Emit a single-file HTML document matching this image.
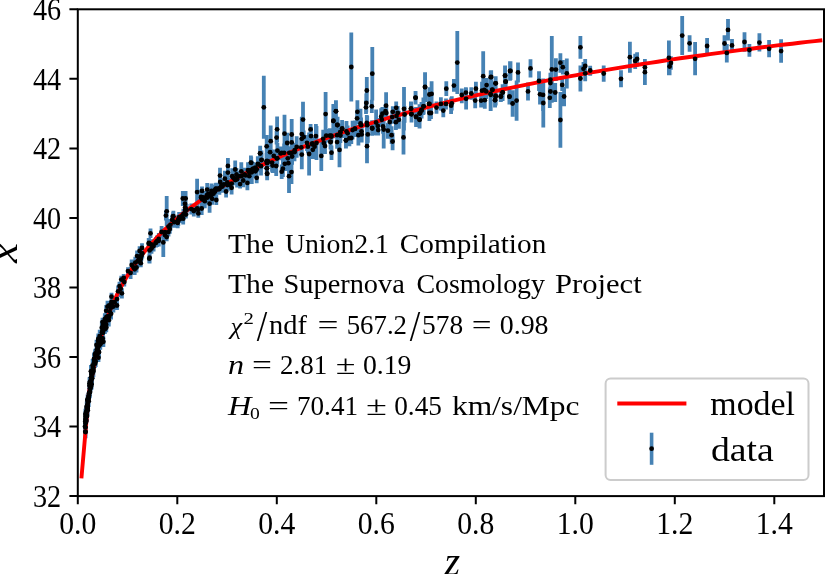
<!DOCTYPE html>
<html><head><meta charset="utf-8"><title>Union2.1 fit</title>
<style>
html,body{margin:0;padding:0;background:#fff;}
svg{display:block;}
text{font-family:"Liberation Serif","DejaVu Serif",serif;fill:#000;}
.tk{font-size:31.4px;}
.an{font-size:27.5px;}
.sm{font-size:17.5px;}
.sl{font-size:44.4px;}
.chi{font-size:23.5px;}
.lg{font-size:33px;}
.ax{font-size:40px;font-style:italic;}
.it{font-style:italic;}
</style></head><body>
<svg width="825" height="574" viewBox="0 0 825 574">
<rect width="825" height="574" fill="#fff"/>

<g stroke="#4682b4" stroke-width="3.8" fill="none">
<path d="M728.0 19.1V40.5M726.8 44.1V62.4M732.0 38.9V52.0M744.5 32.3V51.7M749.4 44.1V56.7M759.4 33.2V51.5M769.1 39.9V57.3M781.1 39.3V62.7M644.9 59.1V75.5M644.9 59.5V84.9M668.9 40.5V75.2M670.9 56.3V69.8M669.6 57.8V75.2M682.2 16.1V54.9M689.6 35.2V51.8M695.1 42.1V75.2M707.1 38.0V53.3M724.5 35.2V51.5M580.4 35.9V58.7M580.4 65.4V91.6M585.2 58.9V73.1M585.2 65.5V81.2M583.5 62.0V75.6M590.2 65.7V75.7M603.7 65.4V81.8M621.0 70.2V87.3M629.9 41.8V72.7M635.2 53.8V69.0M637.1 52.2V66.6M491.2 70.3V83.7M495.7 76.3V90.3M492.4 81.6V98.0M490.6 77.0V111.0M495.7 87.4V105.6M495.1 92.4V107.6M502.6 84.3V100.9M500.7 91.0V102.0M505.0 65.4V86.0M505.6 72.9V90.3M510.5 61.3V80.0M509.5 88.9V104.5M518.0 62.6V82.4M516.6 80.5V120.7M512.6 90.3V116.7M530.5 59.3V77.6M528.0 82.4V100.5M539.0 71.2V91.0M540.0 84.1V104.5M543.0 78.8V111.0M543.3 78.6V127.4M550.4 72.7V86.5M550.4 75.9V90.1M550.4 82.4V100.6M549.8 87.6V108.0M551.8 36.1V102.7M555.9 58.3V80.9M555.2 83.0V102.0M560.4 53.2V72.7M562.8 59.9V74.5M566.8 58.4V88.5M562.2 78.8V91.0M564.1 86.7V106.3M560.4 92.0V147.8M425.0 72.2V101.8M431.6 81.3V106.5M415.5 91.1V104.5M446.3 81.3V96.1M453.9 79.0V91.8M457.3 31.1V94.0M461.8 88.4V103.3M465.9 87.2V98.0M466.1 88.2V109.4M471.3 87.2V99.8M475.9 81.7V95.7M475.2 93.0V108.2M483.2 51.2V101.2M486.6 78.0V92.2M482.0 81.8V99.6M484.4 81.2V98.8M486.2 83.7V99.1M481.1 93.6V107.6M484.8 91.6V108.8M490.7 70.4V84.0M490.7 78.6V111.0M495.6 76.2V90.4M492.3 82.6V96.8M495.0 92.8V107.6M495.6 88.7V102.7M500.9 91.2V102.0M502.7 85.3V99.3M505.1 65.6V85.6M505.7 74.1V89.3M510.0 61.2V80.8M509.4 88.7V104.5M411.2 101.7V115.3M411.5 106.5V122.1M416.1 107.0V127.0M419.5 110.5V128.5M421.6 102.6V118.6M419.5 104.2V123.2M423.4 97.5V115.1M429.5 95.4V112.4M431.0 106.9V119.1M436.5 101.5V113.7M440.9 97.2V110.6M443.3 103.9V117.3M446.0 98.4V109.4M451.8 96.2V110.4M451.1 97.5V113.9M351.3 32.5V101.5M372.3 47.0V100.4M366.8 77.1V104.0M366.3 93.4V112.4M366.0 100.5V114.1M371.8 99.7V112.9M335.9 100.2V122.2M333.4 103.9V137.5M337.6 116.8V133.2M342.2 122.3V134.7M357.4 100.2V123.4M357.1 112.1V124.5M360.5 108.8V138.0M361.1 117.4V133.0M366.8 115.1V130.5M367.2 116.0V134.4M354.8 120.5V136.9M372.1 120.2V135.8M376.1 109.4V135.6M377.8 118.1V133.7M378.2 124.6V135.6M386.1 92.3V119.1M385.5 104.3V118.1M386.3 106.9V119.1M382.4 107.0V120.4M381.2 108.3V125.1M381.8 113.0V126.6M383.0 119.2V133.8M383.7 110.6V148.4M387.9 122.7V138.7M389.8 115.9V128.1M391.6 126.3V144.1M392.6 132.8V150.2M392.8 106.3V117.3M392.2 110.5V123.7M396.2 101.5V114.1M397.7 106.0V120.0M396.5 107.0V125.2M395.9 114.4V130.0M398.9 110.8V128.8M404.0 87.1V130.5M404.6 106.2V122.8M403.5 120.4V154.5M410.9 101.5V116.1M411.5 105.4V122.6M415.6 91.3V104.5M416.0 106.9V126.5M419.6 111.3V128.3M420.2 106.6V119.4M421.5 102.1V117.9M423.7 98.5V114.1M425.1 72.2V102.0M429.0 94.8V113.0M429.4 87.2V101.8M429.4 104.9V121.1M331.2 129.3V141.9M330.6 134.6V149.4M331.5 145.4V160.0M337.1 128.0V142.4M337.1 135.5V148.7M339.5 132.5V167.3M340.4 123.7V141.5M340.4 128.2V143.0M346.5 121.0V141.6M345.9 132.6V148.4M351.3 131.9V144.1M352.6 120.7V139.5M355.0 120.8V137.0M358.4 125.0V145.4M361.7 126.3V142.5M361.5 123.0V139.6M367.8 126.0V142.8M367.0 129.0V163.3M372.3 121.9V135.1M263.8 75.8V138.8M260.1 146.7V160.1M266.7 135.1V157.5M270.7 125.4V157.0M270.1 144.6V159.8M277.1 116.5V142.1M276.6 130.7V144.5M277.4 143.1V158.1M273.8 149.5V162.3M284.5 114.8V152.6M287.2 132.7V153.3M284.1 143.4V162.2M280.5 146.6V160.2M291.7 119.0V150.0M291.7 134.0V150.8M291.5 145.7V159.9M294.5 143.1V161.3M292.1 148.2V164.8M296.7 136.3V157.7M303.0 101.8V137.4M301.8 116.8V151.4M303.7 130.5V143.5M301.8 129.8V147.8M301.2 138.0V156.6M301.8 139.9V169.3M310.6 124.1V134.7M311.0 126.9V145.3M307.0 135.0V151.0M307.9 140.1V153.3M309.1 132.6V175.4M312.2 137.6V151.0M312.8 140.5V159.1M315.9 124.1V148.1M316.5 125.9V160.1M314.6 138.7V154.7M321.3 140.7V171.1M325.6 92.1V136.2M326.2 129.0V142.4M323.2 129.7V147.9M323.8 134.7V151.3M325.0 138.1V154.1M330.5 134.4V149.2M329.9 128.2V143.2M333.3 104.0V138.2M336.0 100.4V122.2M337.2 118.1V131.9M340.2 125.9V138.3M342.1 119.9V138.1M346.0 131.9V148.5M347.6 125.6V141.0M349.4 130.2V146.2M251.2 156.7V168.9M252.4 161.9V176.7M254.9 163.4V174.0M256.7 163.0V175.6M251.8 160.7V183.9M256.7 172.3V183.3M258.5 159.1V169.7M261.6 153.6V166.6M261.0 156.8V175.6M266.5 153.0V169.6M267.1 155.7V170.7M266.8 160.4V176.2M267.1 166.8V180.2M272.0 153.5V171.7M272.6 158.3V172.9M276.2 156.0V176.0M276.8 150.2V166.4M282.9 160.3V177.1M281.7 164.4V179.0M284.8 156.5V171.1M288.4 155.3V171.1M287.8 149.6V167.0M291.5 160.3V183.9M289.0 159.4V193.0M182.8 190.9V206.1M185.6 190.9V206.1M185.0 197.9V209.5M185.2 203.1V211.5M185.2 205.1V216.9M185.9 210.7V218.5M191.3 203.6V214.6M193.8 205.4V216.6M198.0 205.7V213.9M201.7 202.1V214.9M198.3 209.1V217.7M197.1 178.7V205.5M202.0 186.6V195.2M201.1 189.4V204.6M203.5 192.4V202.8M204.8 194.2V208.2M207.2 183.0V196.2M207.2 189.5V204.5M210.2 187.2V200.6M211.5 183.6V198.2M209.6 194.6V212.8M212.1 192.9V204.7M216.3 195.1V204.9M215.7 183.2V194.8M220.0 167.7V183.5M220.2 175.7V188.3M219.4 183.3V194.7M222.4 180.4V192.8M224.9 170.7V186.7M226.1 185.4V197.6M227.9 157.9V173.9M227.9 165.7V179.5M227.3 176.1V188.5M229.8 178.8V190.8M231.6 181.1V194.5M232.2 168.2V184.2M235.2 160.4V178.6M236.5 167.9V180.9M237.1 171.2V187.4M240.1 179.8V188.4M241.3 162.2V180.4M243.2 173.8V187.2M244.4 167.7V181.1M247.4 175.6V190.2M248.0 162.3V177.9M249.3 168.8V183.6M250.9 155.5V169.7M252.9 162.0V175.8M255.4 164.9V177.7M257.8 156.2V171.8M260.2 145.8V160.8M261.5 150.6V169.0M267.0 154.7V167.3M267.0 160.7V175.9M267.2 167.7V179.9M166.7 196.1V226.5M165.9 210.6V220.6M163.3 227.7V257.1M150.5 228.5V238.1M149.3 254.2V263.2M183.2 212.8V224.6M180.1 213.0V221.8M178.3 214.9V226.1M177.7 217.6V228.2M173.4 210.8V221.6M172.2 214.7V225.1M170.4 218.9V230.7M168.5 222.0V231.2M169.8 224.3V233.7M168.5 227.8V236.4M164.9 231.2V239.0M166.7 232.7V241.3M158.8 233.0V244.6M157.0 235.5V246.9M155.7 238.9V247.1M149.0 237.9V248.1M150.9 239.4V249.2M152.7 241.0V251.2M151.5 243.2V253.8M149.6 245.9V254.9M149.6 251.8V263.6M139.6 246.2V255.8M142.3 248.2V258.6M141.1 251.3V261.7M139.3 254.1V262.5M194.1 206.1V214.1M197.2 203.6V213.0M141.4 249.7V260.7M140.8 253.3V264.5M139.0 255.9V266.7M140.8 259.1V267.3M135.3 256.8V268.4M131.7 259.4V270.6M133.5 261.7V273.1M136.5 262.4V272.4M134.7 263.5V275.1M128.0 267.2V275.0M123.7 273.9V281.7M121.3 275.7V283.5M124.3 277.7V286.5M119.5 281.7V290.5M120.7 284.6V293.0M121.9 288.2V298.4M111.5 292.8V300.6M117.0 294.0V304.2M114.6 298.0V306.4M111.5 298.1V308.7M109.1 301.6V309.4M117.0 301.0V310.0M113.4 300.6V312.4M110.9 302.7V312.7M148.7 238.1V249.3M153.6 240.8V251.4M156.0 237.2V247.6M173.0 212.2V220.8M179.1 212.0V222.2M182.2 212.0V219.8M85.3 426.2V437.4M85.0 420.6V432.4M104.9 324.4V334.1M89.9 386.0V397.1M102.7 332.3V344.6M102.7 324.3V336.2M106.1 319.1V329.9M97.4 349.6V358.1M98.1 340.7V352.9M102.9 327.1V338.7M105.5 316.8V325.6M85.6 414.2V423.3M95.3 348.7V358.6M88.7 395.6V406.9M86.5 407.8V416.5M98.1 335.8V345.7M90.9 379.2V388.3M88.6 393.0V403.3M86.2 408.4V419.3M89.5 377.3V389.2M86.9 404.2V412.9M86.2 406.7V416.1M89.7 379.9V391.0M87.7 401.8V414.2M91.0 382.2V390.6M100.2 334.9V347.0M98.5 353.5V361.9M94.1 358.3V367.3M89.0 387.6V399.4M106.7 314.2V323.1M102.8 326.3V337.9M111.5 295.9V308.1M102.0 326.7V337.9M87.7 397.2V409.0M100.0 331.8V341.7M91.9 371.8V384.0M94.7 354.8V365.5M100.0 333.6V345.8M107.8 312.7V321.4M101.3 338.2V346.9M99.7 329.8V342.4M86.8 409.4V422.4M86.7 401.6V412.5M92.4 367.2V376.2M107.5 300.8V312.6M86.1 416.7V424.8M89.8 386.7V398.3M92.6 358.9V371.9M106.4 312.3V321.5M91.3 376.3V385.0M85.6 415.1V423.8M87.5 402.4V412.9M87.7 396.1V405.5M94.3 355.5V366.1M97.1 344.3V354.3M102.5 317.7V326.6M87.0 409.5V422.4M108.8 313.7V326.6M88.0 394.9V405.4M107.5 315.0V324.6M96.3 348.0V357.2M92.9 363.9V375.7M103.9 320.4V331.9M104.8 313.2V324.9M89.6 380.1V391.9M87.4 400.4V411.4M90.1 377.0V385.8M94.0 352.4V365.3M95.6 351.0V360.4M102.9 319.3V330.5M109.2 311.7V321.8M99.0 347.3V356.9M98.3 333.6V344.3M101.7 333.4V345.1M85.4 408.8V419.1M91.6 378.8V389.5M100.3 339.0V349.8M95.1 359.6V367.8M92.6 365.8V376.5M86.1 411.8V420.9M87.8 396.6V405.6M92.6 365.0V376.5M95.0 349.8V360.2M96.9 349.4V360.8M97.5 347.1V357.8M91.4 369.6V379.5M92.9 364.5V375.1M90.2 383.8V393.7M104.6 316.5V326.8M99.7 334.6V346.9M95.7 355.7V367.1M98.6 337.7V347.8M87.6 394.7V404.1M92.1 373.1V383.3M90.9 365.0V377.7M106.4 315.0V324.4M106.2 305.1V316.5M86.1 415.4V424.4M91.9 364.7V376.8M93.1 365.1V375.4M90.9 373.1V382.1M89.8 386.1V398.0M85.9 415.6V427.7M92.4 368.1V379.5M88.6 391.9V401.8M97.3 344.6V355.0M94.3 358.2V367.2M109.7 306.8V316.3M88.8 391.7V401.8M101.8 334.0V343.0M87.0 400.5V412.3M93.4 365.8V377.1M96.9 344.2V356.0M90.3 378.2V388.4M93.4 363.0V373.2M97.4 343.9V352.6M87.5 398.8V411.6M85.6 418.8V427.6M93.1 362.1V372.4M87.3 399.3V411.3M87.7 405.3V415.3M91.8 369.2V378.1M107.9 311.0V322.4M85.8 411.2V422.2M101.8 321.3V334.1M106.3 322.7V332.3M85.6 425.8V438.3M111.1 308.2V319.5M98.6 339.9V352.7M96.5 339.7V350.3M85.5 421.7V433.2M91.9 366.8V378.6M90.2 383.9V392.5M87.7 394.2V404.4M108.1 310.2V322.7M98.7 347.2V357.2M85.3 417.0V426.2M87.1 404.2V415.6M88.1 394.2V406.9M89.0 391.0V399.6M103.4 336.5V347.1M85.7 410.0V422.2M118.1 285.4V297.3M151.9 239.2V250.3M142.0 243.2V252.6M161.6 226.1V237.8M137.1 250.4V261.9M137.7 254.7V267.5M158.8 235.0V246.6M130.6 266.7V279.0M223.9 178.6V190.0M201.8 191.8V203.0M207.5 191.3V203.7M210.0 187.9V203.0M213.5 187.4V200.0M201.7 190.5V204.9M201.2 190.0V204.8M249.0 165.0V177.7M219.2 183.4V193.4M213.0 184.9V197.3M227.4 179.7V190.3M202.2 194.6V204.2M204.7 190.9V205.0M235.1 174.0V184.6M234.6 173.2V185.2M248.8 166.9V176.8M235.3 175.2V184.9M237.6 171.6V181.1M233.0 172.0V183.1M216.2 182.7V194.5M241.7 171.2V180.6M249.7 165.7V175.1M214.9 185.0V198.4M255.4 162.4V173.0M211.5 188.2V202.0M204.0 192.7V204.2M231.7 178.0V189.2M208.3 186.7V200.9M245.6 168.8V182.0M218.7 184.7V193.5M253.0 163.3V174.6M240.2 171.4V181.1M208.2 191.3V200.4M212.9 186.5V197.8M221.5 180.0V190.3M201.8 191.3V204.3M277.3 152.4V164.2M289.3 146.5V159.1M281.6 148.2V157.4M268.0 155.9V166.9M331.4 130.9V142.5M294.7 143.8V156.7M312.3 137.1V149.6M165.0 227.7V236.4M186.6 204.1V215.4M178.2 214.8V224.6M174.2 216.6V227.1M179.9 215.0V222.9M183.4 208.8V219.5M185.4 205.2V213.6M174.1 216.4V227.8M215.2 185.1V195.1M215.2 185.5V195.9M217.8 184.1V194.3M207.0 189.2V201.0M221.8 180.0V192.0M210.2 191.2V200.6M212.8 187.0V196.9M213.4 187.2V196.1"/>
</g>
<path d="M81.4 478.3 L88.9 392.9 L96.4 353.2 L103.9 326.8 L111.4 306.9 L118.8 290.9 L126.3 277.5 L133.8 265.9 L141.3 255.6 L148.8 246.5 L156.3 238.2 L163.7 230.6 L171.2 223.6 L178.7 217.1 L186.2 211.0 L193.7 205.3 L201.2 200.0 L208.6 194.9 L216.1 190.1 L223.6 185.5 L231.1 181.1 L238.6 177.0 L246.1 173.0 L253.5 169.1 L261.0 165.4 L268.5 161.9 L276.0 158.5 L283.5 155.2 L291.0 152.0 L298.4 148.9 L305.9 145.9 L313.4 143.0 L320.9 140.2 L328.4 137.4 L335.9 134.8 L343.3 132.2 L350.8 129.7 L358.3 127.2 L365.8 124.9 L373.3 122.5 L380.8 120.3 L388.2 118.0 L395.7 115.9 L403.2 113.8 L410.7 111.7 L418.2 109.7 L425.7 107.7 L433.1 105.7 L440.6 103.9 L448.1 102.0 L455.6 100.2 L463.1 98.4 L470.6 96.6 L478.0 94.9 L485.5 93.2 L493.0 91.6 L500.5 90.0 L508.0 88.4 L515.5 86.8 L522.9 85.3 L530.4 83.8 L537.9 82.3 L545.4 80.9 L552.9 79.4 L560.4 78.0 L567.8 76.6 L575.3 75.3 L582.8 73.9 L590.3 72.6 L597.8 71.3 L605.2 70.1 L612.7 68.8 L620.2 67.6 L627.7 66.4 L635.2 65.2 L642.7 64.0 L650.1 62.8 L657.6 61.7 L665.1 60.5 L672.6 59.4 L680.1 58.3 L687.6 57.3 L695.0 56.2 L702.5 55.2 L710.0 54.1 L717.5 53.1 L725.0 52.1 L732.5 51.1 L739.9 50.1 L747.4 49.2 L754.9 48.2 L762.4 47.3 L769.9 46.4 L777.4 45.4 L784.8 44.5 L792.3 43.7 L799.8 42.8 L807.3 41.9 L814.8 41.1 L822.3 40.2" stroke="#ff0000" stroke-width="3.9" fill="none" stroke-linejoin="round"/>
<g fill="#000">
<circle cx="728.0" cy="29.9" r="2.4"/>
<circle cx="726.8" cy="52.9" r="2.4"/>
<circle cx="732.0" cy="45.4" r="2.4"/>
<circle cx="744.5" cy="42.0" r="2.4"/>
<circle cx="749.4" cy="50.0" r="2.4"/>
<circle cx="759.4" cy="42.6" r="2.4"/>
<circle cx="769.1" cy="48.8" r="2.4"/>
<circle cx="781.1" cy="51.1" r="2.4"/>
<circle cx="644.9" cy="67.3" r="2.4"/>
<circle cx="644.9" cy="72.2" r="2.4"/>
<circle cx="668.9" cy="57.8" r="2.4"/>
<circle cx="670.9" cy="63.0" r="2.4"/>
<circle cx="669.6" cy="66.5" r="2.4"/>
<circle cx="682.2" cy="35.6" r="2.4"/>
<circle cx="689.6" cy="43.3" r="2.4"/>
<circle cx="695.1" cy="58.8" r="2.4"/>
<circle cx="707.1" cy="46.0" r="2.4"/>
<circle cx="724.5" cy="43.5" r="2.4"/>
<circle cx="580.4" cy="47.3" r="2.4"/>
<circle cx="580.4" cy="78.5" r="2.4"/>
<circle cx="585.2" cy="66.0" r="2.4"/>
<circle cx="585.2" cy="73.3" r="2.4"/>
<circle cx="583.5" cy="68.8" r="2.4"/>
<circle cx="590.2" cy="70.5" r="2.4"/>
<circle cx="603.7" cy="73.5" r="2.4"/>
<circle cx="621.0" cy="78.8" r="2.4"/>
<circle cx="629.9" cy="57.2" r="2.4"/>
<circle cx="635.2" cy="60.9" r="2.4"/>
<circle cx="637.1" cy="59.0" r="2.4"/>
<circle cx="491.2" cy="77.0" r="2.4"/>
<circle cx="495.7" cy="83.3" r="2.4"/>
<circle cx="492.4" cy="89.8" r="2.4"/>
<circle cx="490.6" cy="94.0" r="2.4"/>
<circle cx="495.7" cy="96.5" r="2.4"/>
<circle cx="495.1" cy="100.0" r="2.4"/>
<circle cx="502.6" cy="92.6" r="2.4"/>
<circle cx="500.7" cy="96.5" r="2.4"/>
<circle cx="505.0" cy="75.7" r="2.4"/>
<circle cx="505.6" cy="81.6" r="2.4"/>
<circle cx="510.5" cy="70.9" r="2.4"/>
<circle cx="509.5" cy="96.7" r="2.4"/>
<circle cx="518.0" cy="72.4" r="2.4"/>
<circle cx="516.6" cy="100.6" r="2.4"/>
<circle cx="512.6" cy="103.5" r="2.4"/>
<circle cx="530.5" cy="68.4" r="2.4"/>
<circle cx="528.0" cy="91.4" r="2.4"/>
<circle cx="539.0" cy="81.0" r="2.4"/>
<circle cx="540.0" cy="94.3" r="2.4"/>
<circle cx="543.0" cy="94.9" r="2.4"/>
<circle cx="543.3" cy="103.0" r="2.4"/>
<circle cx="550.4" cy="79.6" r="2.4"/>
<circle cx="550.4" cy="83.0" r="2.4"/>
<circle cx="550.4" cy="91.5" r="2.4"/>
<circle cx="549.8" cy="97.8" r="2.4"/>
<circle cx="551.8" cy="69.4" r="2.4"/>
<circle cx="555.9" cy="69.6" r="2.4"/>
<circle cx="555.2" cy="92.5" r="2.4"/>
<circle cx="560.4" cy="62.7" r="2.4"/>
<circle cx="562.8" cy="67.2" r="2.4"/>
<circle cx="566.8" cy="73.3" r="2.4"/>
<circle cx="562.2" cy="84.9" r="2.4"/>
<circle cx="564.1" cy="96.5" r="2.4"/>
<circle cx="560.4" cy="120.0" r="2.4"/>
<circle cx="425.0" cy="87.0" r="2.4"/>
<circle cx="431.6" cy="93.9" r="2.4"/>
<circle cx="415.5" cy="97.6" r="2.4"/>
<circle cx="446.3" cy="88.7" r="2.4"/>
<circle cx="453.9" cy="85.6" r="2.4"/>
<circle cx="457.3" cy="62.6" r="2.4"/>
<circle cx="461.8" cy="95.0" r="2.4"/>
<circle cx="465.9" cy="92.6" r="2.4"/>
<circle cx="466.1" cy="98.8" r="2.4"/>
<circle cx="471.3" cy="93.5" r="2.4"/>
<circle cx="475.9" cy="88.7" r="2.4"/>
<circle cx="475.2" cy="100.6" r="2.4"/>
<circle cx="483.2" cy="76.2" r="2.4"/>
<circle cx="486.6" cy="85.1" r="2.4"/>
<circle cx="482.0" cy="90.7" r="2.4"/>
<circle cx="484.4" cy="90.0" r="2.4"/>
<circle cx="486.2" cy="91.4" r="2.4"/>
<circle cx="481.1" cy="100.6" r="2.4"/>
<circle cx="484.8" cy="100.2" r="2.4"/>
<circle cx="490.7" cy="77.2" r="2.4"/>
<circle cx="490.7" cy="94.8" r="2.4"/>
<circle cx="495.6" cy="83.3" r="2.4"/>
<circle cx="492.3" cy="89.7" r="2.4"/>
<circle cx="495.0" cy="100.2" r="2.4"/>
<circle cx="495.6" cy="95.7" r="2.4"/>
<circle cx="500.9" cy="96.6" r="2.4"/>
<circle cx="502.7" cy="92.3" r="2.4"/>
<circle cx="505.1" cy="75.6" r="2.4"/>
<circle cx="505.7" cy="81.7" r="2.4"/>
<circle cx="510.0" cy="71.0" r="2.4"/>
<circle cx="509.4" cy="96.6" r="2.4"/>
<circle cx="411.2" cy="108.5" r="2.4"/>
<circle cx="411.5" cy="114.3" r="2.4"/>
<circle cx="416.1" cy="117.0" r="2.4"/>
<circle cx="419.5" cy="119.5" r="2.4"/>
<circle cx="421.6" cy="110.6" r="2.4"/>
<circle cx="419.5" cy="113.7" r="2.4"/>
<circle cx="423.4" cy="106.3" r="2.4"/>
<circle cx="429.5" cy="103.9" r="2.4"/>
<circle cx="431.0" cy="113.0" r="2.4"/>
<circle cx="436.5" cy="107.6" r="2.4"/>
<circle cx="440.9" cy="103.9" r="2.4"/>
<circle cx="443.3" cy="110.6" r="2.4"/>
<circle cx="446.0" cy="103.9" r="2.4"/>
<circle cx="451.8" cy="103.3" r="2.4"/>
<circle cx="451.1" cy="105.7" r="2.4"/>
<circle cx="351.3" cy="67.0" r="2.4"/>
<circle cx="372.3" cy="73.7" r="2.4"/>
<circle cx="366.8" cy="90.5" r="2.4"/>
<circle cx="366.3" cy="102.9" r="2.4"/>
<circle cx="366.0" cy="107.3" r="2.4"/>
<circle cx="371.8" cy="106.3" r="2.4"/>
<circle cx="335.9" cy="111.2" r="2.4"/>
<circle cx="333.4" cy="120.7" r="2.4"/>
<circle cx="337.6" cy="125.0" r="2.4"/>
<circle cx="342.2" cy="128.5" r="2.4"/>
<circle cx="357.4" cy="111.8" r="2.4"/>
<circle cx="357.1" cy="118.3" r="2.4"/>
<circle cx="360.5" cy="123.4" r="2.4"/>
<circle cx="361.1" cy="125.2" r="2.4"/>
<circle cx="366.8" cy="122.8" r="2.4"/>
<circle cx="367.2" cy="125.2" r="2.4"/>
<circle cx="354.8" cy="128.7" r="2.4"/>
<circle cx="372.1" cy="128.0" r="2.4"/>
<circle cx="376.1" cy="122.5" r="2.4"/>
<circle cx="377.8" cy="125.9" r="2.4"/>
<circle cx="378.2" cy="130.1" r="2.4"/>
<circle cx="386.1" cy="105.7" r="2.4"/>
<circle cx="385.5" cy="111.2" r="2.4"/>
<circle cx="386.3" cy="113.0" r="2.4"/>
<circle cx="382.4" cy="113.7" r="2.4"/>
<circle cx="381.2" cy="116.7" r="2.4"/>
<circle cx="381.8" cy="119.8" r="2.4"/>
<circle cx="383.0" cy="126.5" r="2.4"/>
<circle cx="383.7" cy="129.5" r="2.4"/>
<circle cx="387.9" cy="130.7" r="2.4"/>
<circle cx="389.8" cy="122.0" r="2.4"/>
<circle cx="391.6" cy="135.2" r="2.4"/>
<circle cx="392.6" cy="141.5" r="2.4"/>
<circle cx="392.8" cy="111.8" r="2.4"/>
<circle cx="392.2" cy="117.1" r="2.4"/>
<circle cx="396.2" cy="107.8" r="2.4"/>
<circle cx="397.7" cy="113.0" r="2.4"/>
<circle cx="396.5" cy="116.1" r="2.4"/>
<circle cx="395.9" cy="122.2" r="2.4"/>
<circle cx="398.9" cy="119.8" r="2.4"/>
<circle cx="404.0" cy="108.8" r="2.4"/>
<circle cx="404.6" cy="114.5" r="2.4"/>
<circle cx="403.5" cy="137.4" r="2.4"/>
<circle cx="410.9" cy="108.8" r="2.4"/>
<circle cx="411.5" cy="114.0" r="2.4"/>
<circle cx="415.6" cy="97.8" r="2.4"/>
<circle cx="416.0" cy="116.7" r="2.4"/>
<circle cx="419.6" cy="119.8" r="2.4"/>
<circle cx="420.2" cy="113.0" r="2.4"/>
<circle cx="421.5" cy="110.0" r="2.4"/>
<circle cx="423.7" cy="106.3" r="2.4"/>
<circle cx="425.1" cy="87.1" r="2.4"/>
<circle cx="429.0" cy="103.9" r="2.4"/>
<circle cx="429.4" cy="94.5" r="2.4"/>
<circle cx="429.4" cy="113.0" r="2.4"/>
<circle cx="331.2" cy="135.6" r="2.4"/>
<circle cx="330.6" cy="142.0" r="2.4"/>
<circle cx="331.5" cy="152.7" r="2.4"/>
<circle cx="337.1" cy="135.2" r="2.4"/>
<circle cx="337.1" cy="142.1" r="2.4"/>
<circle cx="339.5" cy="149.9" r="2.4"/>
<circle cx="340.4" cy="132.6" r="2.4"/>
<circle cx="340.4" cy="135.6" r="2.4"/>
<circle cx="346.5" cy="131.3" r="2.4"/>
<circle cx="345.9" cy="140.5" r="2.4"/>
<circle cx="351.3" cy="138.0" r="2.4"/>
<circle cx="352.6" cy="130.1" r="2.4"/>
<circle cx="355.0" cy="128.9" r="2.4"/>
<circle cx="358.4" cy="135.2" r="2.4"/>
<circle cx="361.7" cy="134.4" r="2.4"/>
<circle cx="361.5" cy="131.3" r="2.4"/>
<circle cx="367.8" cy="134.4" r="2.4"/>
<circle cx="367.0" cy="146.2" r="2.4"/>
<circle cx="372.3" cy="128.5" r="2.4"/>
<circle cx="263.8" cy="107.3" r="2.4"/>
<circle cx="260.1" cy="153.4" r="2.4"/>
<circle cx="266.7" cy="146.3" r="2.4"/>
<circle cx="270.7" cy="141.2" r="2.4"/>
<circle cx="270.1" cy="152.2" r="2.4"/>
<circle cx="277.1" cy="129.3" r="2.4"/>
<circle cx="276.6" cy="137.6" r="2.4"/>
<circle cx="277.4" cy="150.6" r="2.4"/>
<circle cx="273.8" cy="155.9" r="2.4"/>
<circle cx="284.5" cy="133.7" r="2.4"/>
<circle cx="287.2" cy="143.0" r="2.4"/>
<circle cx="284.1" cy="152.8" r="2.4"/>
<circle cx="280.5" cy="153.4" r="2.4"/>
<circle cx="291.7" cy="134.5" r="2.4"/>
<circle cx="291.7" cy="142.4" r="2.4"/>
<circle cx="291.5" cy="152.8" r="2.4"/>
<circle cx="294.5" cy="152.2" r="2.4"/>
<circle cx="292.1" cy="156.5" r="2.4"/>
<circle cx="296.7" cy="147.0" r="2.4"/>
<circle cx="303.0" cy="119.6" r="2.4"/>
<circle cx="301.8" cy="134.1" r="2.4"/>
<circle cx="303.7" cy="137.0" r="2.4"/>
<circle cx="301.8" cy="138.8" r="2.4"/>
<circle cx="301.2" cy="147.3" r="2.4"/>
<circle cx="301.8" cy="154.6" r="2.4"/>
<circle cx="310.6" cy="129.4" r="2.4"/>
<circle cx="311.0" cy="136.1" r="2.4"/>
<circle cx="307.0" cy="143.0" r="2.4"/>
<circle cx="307.9" cy="146.7" r="2.4"/>
<circle cx="309.1" cy="154.0" r="2.4"/>
<circle cx="312.2" cy="144.3" r="2.4"/>
<circle cx="312.8" cy="149.8" r="2.4"/>
<circle cx="315.9" cy="136.1" r="2.4"/>
<circle cx="316.5" cy="143.0" r="2.4"/>
<circle cx="314.6" cy="146.7" r="2.4"/>
<circle cx="321.3" cy="155.9" r="2.4"/>
<circle cx="325.6" cy="114.1" r="2.4"/>
<circle cx="326.2" cy="135.7" r="2.4"/>
<circle cx="323.2" cy="138.8" r="2.4"/>
<circle cx="323.8" cy="143.0" r="2.4"/>
<circle cx="325.0" cy="146.1" r="2.4"/>
<circle cx="330.5" cy="141.8" r="2.4"/>
<circle cx="329.9" cy="135.7" r="2.4"/>
<circle cx="333.3" cy="121.1" r="2.4"/>
<circle cx="336.0" cy="111.3" r="2.4"/>
<circle cx="337.2" cy="125.0" r="2.4"/>
<circle cx="340.2" cy="132.1" r="2.4"/>
<circle cx="342.1" cy="129.0" r="2.4"/>
<circle cx="346.0" cy="140.2" r="2.4"/>
<circle cx="347.6" cy="133.3" r="2.4"/>
<circle cx="349.4" cy="138.2" r="2.4"/>
<circle cx="251.2" cy="162.8" r="2.4"/>
<circle cx="252.4" cy="169.3" r="2.4"/>
<circle cx="254.9" cy="168.7" r="2.4"/>
<circle cx="256.7" cy="169.3" r="2.4"/>
<circle cx="251.8" cy="172.3" r="2.4"/>
<circle cx="256.7" cy="177.8" r="2.4"/>
<circle cx="258.5" cy="164.4" r="2.4"/>
<circle cx="261.6" cy="160.1" r="2.4"/>
<circle cx="261.0" cy="166.2" r="2.4"/>
<circle cx="266.5" cy="161.3" r="2.4"/>
<circle cx="267.1" cy="163.2" r="2.4"/>
<circle cx="266.8" cy="168.3" r="2.4"/>
<circle cx="267.1" cy="173.5" r="2.4"/>
<circle cx="272.0" cy="162.6" r="2.4"/>
<circle cx="272.6" cy="165.6" r="2.4"/>
<circle cx="276.2" cy="166.0" r="2.4"/>
<circle cx="276.8" cy="158.3" r="2.4"/>
<circle cx="282.9" cy="168.7" r="2.4"/>
<circle cx="281.7" cy="171.7" r="2.4"/>
<circle cx="284.8" cy="163.8" r="2.4"/>
<circle cx="288.4" cy="163.2" r="2.4"/>
<circle cx="287.8" cy="158.3" r="2.4"/>
<circle cx="291.5" cy="172.1" r="2.4"/>
<circle cx="289.0" cy="176.2" r="2.4"/>
<circle cx="182.8" cy="198.5" r="2.4"/>
<circle cx="185.6" cy="198.5" r="2.4"/>
<circle cx="185.0" cy="203.7" r="2.4"/>
<circle cx="185.2" cy="207.3" r="2.4"/>
<circle cx="185.2" cy="211.0" r="2.4"/>
<circle cx="185.9" cy="214.6" r="2.4"/>
<circle cx="191.3" cy="209.1" r="2.4"/>
<circle cx="193.8" cy="211.0" r="2.4"/>
<circle cx="198.0" cy="209.8" r="2.4"/>
<circle cx="201.7" cy="208.5" r="2.4"/>
<circle cx="198.3" cy="213.4" r="2.4"/>
<circle cx="197.1" cy="192.1" r="2.4"/>
<circle cx="202.0" cy="190.9" r="2.4"/>
<circle cx="201.1" cy="197.0" r="2.4"/>
<circle cx="203.5" cy="197.6" r="2.4"/>
<circle cx="204.8" cy="201.2" r="2.4"/>
<circle cx="207.2" cy="189.6" r="2.4"/>
<circle cx="207.2" cy="197.0" r="2.4"/>
<circle cx="210.2" cy="193.9" r="2.4"/>
<circle cx="211.5" cy="190.9" r="2.4"/>
<circle cx="209.6" cy="203.7" r="2.4"/>
<circle cx="212.1" cy="198.8" r="2.4"/>
<circle cx="216.3" cy="200.0" r="2.4"/>
<circle cx="215.7" cy="189.0" r="2.4"/>
<circle cx="220.0" cy="175.6" r="2.4"/>
<circle cx="220.2" cy="182.0" r="2.4"/>
<circle cx="219.4" cy="189.0" r="2.4"/>
<circle cx="222.4" cy="186.6" r="2.4"/>
<circle cx="224.9" cy="178.7" r="2.4"/>
<circle cx="226.1" cy="191.5" r="2.4"/>
<circle cx="227.9" cy="165.9" r="2.4"/>
<circle cx="227.9" cy="172.6" r="2.4"/>
<circle cx="227.3" cy="182.3" r="2.4"/>
<circle cx="229.8" cy="184.8" r="2.4"/>
<circle cx="231.6" cy="187.8" r="2.4"/>
<circle cx="232.2" cy="176.2" r="2.4"/>
<circle cx="235.2" cy="169.5" r="2.4"/>
<circle cx="236.5" cy="174.4" r="2.4"/>
<circle cx="237.1" cy="179.3" r="2.4"/>
<circle cx="240.1" cy="184.1" r="2.4"/>
<circle cx="241.3" cy="171.3" r="2.4"/>
<circle cx="243.2" cy="180.5" r="2.4"/>
<circle cx="244.4" cy="174.4" r="2.4"/>
<circle cx="247.4" cy="182.9" r="2.4"/>
<circle cx="248.0" cy="170.1" r="2.4"/>
<circle cx="249.3" cy="176.2" r="2.4"/>
<circle cx="250.9" cy="162.6" r="2.4"/>
<circle cx="252.9" cy="168.9" r="2.4"/>
<circle cx="255.4" cy="171.3" r="2.4"/>
<circle cx="257.8" cy="164.0" r="2.4"/>
<circle cx="260.2" cy="153.3" r="2.4"/>
<circle cx="261.5" cy="159.8" r="2.4"/>
<circle cx="267.0" cy="161.0" r="2.4"/>
<circle cx="267.0" cy="168.3" r="2.4"/>
<circle cx="267.2" cy="173.8" r="2.4"/>
<circle cx="166.7" cy="211.3" r="2.4"/>
<circle cx="165.9" cy="215.6" r="2.4"/>
<circle cx="163.3" cy="242.4" r="2.4"/>
<circle cx="150.5" cy="233.3" r="2.4"/>
<circle cx="149.3" cy="258.7" r="2.4"/>
<circle cx="183.2" cy="218.7" r="2.4"/>
<circle cx="180.1" cy="217.4" r="2.4"/>
<circle cx="178.3" cy="220.5" r="2.4"/>
<circle cx="177.7" cy="222.9" r="2.4"/>
<circle cx="173.4" cy="216.2" r="2.4"/>
<circle cx="172.2" cy="219.9" r="2.4"/>
<circle cx="170.4" cy="224.8" r="2.4"/>
<circle cx="168.5" cy="226.6" r="2.4"/>
<circle cx="169.8" cy="229.0" r="2.4"/>
<circle cx="168.5" cy="232.1" r="2.4"/>
<circle cx="164.9" cy="235.1" r="2.4"/>
<circle cx="166.7" cy="237.0" r="2.4"/>
<circle cx="158.8" cy="238.8" r="2.4"/>
<circle cx="157.0" cy="241.2" r="2.4"/>
<circle cx="155.7" cy="243.0" r="2.4"/>
<circle cx="149.0" cy="243.0" r="2.4"/>
<circle cx="150.9" cy="244.3" r="2.4"/>
<circle cx="152.7" cy="246.1" r="2.4"/>
<circle cx="151.5" cy="248.5" r="2.4"/>
<circle cx="149.6" cy="250.4" r="2.4"/>
<circle cx="149.6" cy="257.7" r="2.4"/>
<circle cx="139.6" cy="251.0" r="2.4"/>
<circle cx="142.3" cy="253.4" r="2.4"/>
<circle cx="141.1" cy="256.5" r="2.4"/>
<circle cx="139.3" cy="258.3" r="2.4"/>
<circle cx="194.1" cy="210.1" r="2.4"/>
<circle cx="197.2" cy="208.3" r="2.4"/>
<circle cx="141.4" cy="255.2" r="2.4"/>
<circle cx="140.8" cy="258.9" r="2.4"/>
<circle cx="139.0" cy="261.3" r="2.4"/>
<circle cx="140.8" cy="263.2" r="2.4"/>
<circle cx="135.3" cy="262.6" r="2.4"/>
<circle cx="131.7" cy="265.0" r="2.4"/>
<circle cx="133.5" cy="267.4" r="2.4"/>
<circle cx="136.5" cy="267.4" r="2.4"/>
<circle cx="134.7" cy="269.3" r="2.4"/>
<circle cx="128.0" cy="271.1" r="2.4"/>
<circle cx="123.7" cy="277.8" r="2.4"/>
<circle cx="121.3" cy="279.6" r="2.4"/>
<circle cx="124.3" cy="282.1" r="2.4"/>
<circle cx="119.5" cy="286.1" r="2.4"/>
<circle cx="120.7" cy="288.8" r="2.4"/>
<circle cx="121.9" cy="293.3" r="2.4"/>
<circle cx="111.5" cy="296.7" r="2.4"/>
<circle cx="117.0" cy="299.1" r="2.4"/>
<circle cx="114.6" cy="302.2" r="2.4"/>
<circle cx="111.5" cy="303.4" r="2.4"/>
<circle cx="109.1" cy="305.5" r="2.4"/>
<circle cx="117.0" cy="305.5" r="2.4"/>
<circle cx="113.4" cy="306.5" r="2.4"/>
<circle cx="110.9" cy="307.7" r="2.4"/>
<circle cx="148.7" cy="243.7" r="2.4"/>
<circle cx="153.6" cy="246.1" r="2.4"/>
<circle cx="156.0" cy="242.4" r="2.4"/>
<circle cx="173.0" cy="216.5" r="2.4"/>
<circle cx="179.1" cy="217.1" r="2.4"/>
<circle cx="182.2" cy="215.9" r="2.4"/>
<circle cx="85.3" cy="431.8" r="2.4"/>
<circle cx="85.0" cy="426.5" r="2.4"/>
<circle cx="104.9" cy="329.3" r="2.4"/>
<circle cx="89.9" cy="391.6" r="2.4"/>
<circle cx="102.7" cy="338.4" r="2.4"/>
<circle cx="102.7" cy="330.2" r="2.4"/>
<circle cx="106.1" cy="324.5" r="2.4"/>
<circle cx="97.4" cy="353.9" r="2.4"/>
<circle cx="98.1" cy="346.8" r="2.4"/>
<circle cx="102.9" cy="332.9" r="2.4"/>
<circle cx="105.5" cy="321.2" r="2.4"/>
<circle cx="85.6" cy="418.7" r="2.4"/>
<circle cx="95.3" cy="353.6" r="2.4"/>
<circle cx="88.7" cy="401.3" r="2.4"/>
<circle cx="86.5" cy="412.2" r="2.4"/>
<circle cx="98.1" cy="340.7" r="2.4"/>
<circle cx="90.9" cy="383.7" r="2.4"/>
<circle cx="88.6" cy="398.2" r="2.4"/>
<circle cx="86.2" cy="413.8" r="2.4"/>
<circle cx="89.5" cy="383.2" r="2.4"/>
<circle cx="86.9" cy="408.6" r="2.4"/>
<circle cx="86.2" cy="411.4" r="2.4"/>
<circle cx="89.7" cy="385.5" r="2.4"/>
<circle cx="87.7" cy="408.0" r="2.4"/>
<circle cx="91.0" cy="386.4" r="2.4"/>
<circle cx="100.2" cy="341.0" r="2.4"/>
<circle cx="98.5" cy="357.7" r="2.4"/>
<circle cx="94.1" cy="362.8" r="2.4"/>
<circle cx="89.0" cy="393.5" r="2.4"/>
<circle cx="106.7" cy="318.7" r="2.4"/>
<circle cx="102.8" cy="332.1" r="2.4"/>
<circle cx="111.5" cy="302.0" r="2.4"/>
<circle cx="102.0" cy="332.3" r="2.4"/>
<circle cx="87.7" cy="403.1" r="2.4"/>
<circle cx="100.0" cy="336.7" r="2.4"/>
<circle cx="91.9" cy="377.9" r="2.4"/>
<circle cx="94.7" cy="360.1" r="2.4"/>
<circle cx="100.0" cy="339.7" r="2.4"/>
<circle cx="107.8" cy="317.0" r="2.4"/>
<circle cx="101.3" cy="342.6" r="2.4"/>
<circle cx="99.7" cy="336.1" r="2.4"/>
<circle cx="86.8" cy="415.9" r="2.4"/>
<circle cx="86.7" cy="407.0" r="2.4"/>
<circle cx="92.4" cy="371.7" r="2.4"/>
<circle cx="107.5" cy="306.7" r="2.4"/>
<circle cx="86.1" cy="420.7" r="2.4"/>
<circle cx="89.8" cy="392.5" r="2.4"/>
<circle cx="92.6" cy="365.4" r="2.4"/>
<circle cx="106.4" cy="316.9" r="2.4"/>
<circle cx="91.3" cy="380.7" r="2.4"/>
<circle cx="85.6" cy="419.4" r="2.4"/>
<circle cx="87.5" cy="407.7" r="2.4"/>
<circle cx="87.7" cy="400.8" r="2.4"/>
<circle cx="94.3" cy="360.8" r="2.4"/>
<circle cx="97.1" cy="349.3" r="2.4"/>
<circle cx="102.5" cy="322.1" r="2.4"/>
<circle cx="87.0" cy="415.9" r="2.4"/>
<circle cx="108.8" cy="320.2" r="2.4"/>
<circle cx="88.0" cy="400.1" r="2.4"/>
<circle cx="107.5" cy="319.8" r="2.4"/>
<circle cx="96.3" cy="352.6" r="2.4"/>
<circle cx="92.9" cy="369.8" r="2.4"/>
<circle cx="103.9" cy="326.1" r="2.4"/>
<circle cx="104.8" cy="319.1" r="2.4"/>
<circle cx="89.6" cy="386.0" r="2.4"/>
<circle cx="87.4" cy="405.9" r="2.4"/>
<circle cx="90.1" cy="381.4" r="2.4"/>
<circle cx="94.0" cy="358.8" r="2.4"/>
<circle cx="95.6" cy="355.7" r="2.4"/>
<circle cx="102.9" cy="324.9" r="2.4"/>
<circle cx="109.2" cy="316.8" r="2.4"/>
<circle cx="99.0" cy="352.1" r="2.4"/>
<circle cx="98.3" cy="339.0" r="2.4"/>
<circle cx="101.7" cy="339.3" r="2.4"/>
<circle cx="85.4" cy="413.9" r="2.4"/>
<circle cx="91.6" cy="384.2" r="2.4"/>
<circle cx="100.3" cy="344.4" r="2.4"/>
<circle cx="95.1" cy="363.7" r="2.4"/>
<circle cx="92.6" cy="371.2" r="2.4"/>
<circle cx="86.1" cy="416.4" r="2.4"/>
<circle cx="87.8" cy="401.1" r="2.4"/>
<circle cx="92.6" cy="370.7" r="2.4"/>
<circle cx="95.0" cy="355.0" r="2.4"/>
<circle cx="96.9" cy="355.1" r="2.4"/>
<circle cx="97.5" cy="352.5" r="2.4"/>
<circle cx="91.4" cy="374.6" r="2.4"/>
<circle cx="92.9" cy="369.8" r="2.4"/>
<circle cx="90.2" cy="388.7" r="2.4"/>
<circle cx="104.6" cy="321.7" r="2.4"/>
<circle cx="99.7" cy="340.7" r="2.4"/>
<circle cx="95.7" cy="361.4" r="2.4"/>
<circle cx="98.6" cy="342.7" r="2.4"/>
<circle cx="87.6" cy="399.4" r="2.4"/>
<circle cx="92.1" cy="378.2" r="2.4"/>
<circle cx="90.9" cy="371.3" r="2.4"/>
<circle cx="106.4" cy="319.7" r="2.4"/>
<circle cx="106.2" cy="310.8" r="2.4"/>
<circle cx="86.1" cy="419.9" r="2.4"/>
<circle cx="91.9" cy="370.7" r="2.4"/>
<circle cx="93.1" cy="370.2" r="2.4"/>
<circle cx="90.9" cy="377.6" r="2.4"/>
<circle cx="89.8" cy="392.0" r="2.4"/>
<circle cx="85.9" cy="421.7" r="2.4"/>
<circle cx="92.4" cy="373.8" r="2.4"/>
<circle cx="88.6" cy="396.9" r="2.4"/>
<circle cx="97.3" cy="349.8" r="2.4"/>
<circle cx="94.3" cy="362.7" r="2.4"/>
<circle cx="109.7" cy="311.5" r="2.4"/>
<circle cx="88.8" cy="396.7" r="2.4"/>
<circle cx="101.8" cy="338.5" r="2.4"/>
<circle cx="87.0" cy="406.4" r="2.4"/>
<circle cx="93.4" cy="371.4" r="2.4"/>
<circle cx="96.9" cy="350.1" r="2.4"/>
<circle cx="90.3" cy="383.3" r="2.4"/>
<circle cx="93.4" cy="368.1" r="2.4"/>
<circle cx="97.4" cy="348.3" r="2.4"/>
<circle cx="87.5" cy="405.2" r="2.4"/>
<circle cx="85.6" cy="423.2" r="2.4"/>
<circle cx="93.1" cy="367.3" r="2.4"/>
<circle cx="87.3" cy="405.3" r="2.4"/>
<circle cx="87.7" cy="410.3" r="2.4"/>
<circle cx="91.8" cy="373.6" r="2.4"/>
<circle cx="107.9" cy="316.7" r="2.4"/>
<circle cx="85.8" cy="416.7" r="2.4"/>
<circle cx="101.8" cy="327.7" r="2.4"/>
<circle cx="106.3" cy="327.5" r="2.4"/>
<circle cx="85.6" cy="432.0" r="2.4"/>
<circle cx="111.1" cy="313.8" r="2.4"/>
<circle cx="98.6" cy="346.3" r="2.4"/>
<circle cx="96.5" cy="345.0" r="2.4"/>
<circle cx="85.5" cy="427.4" r="2.4"/>
<circle cx="91.9" cy="372.7" r="2.4"/>
<circle cx="90.2" cy="388.2" r="2.4"/>
<circle cx="87.7" cy="399.3" r="2.4"/>
<circle cx="108.1" cy="316.4" r="2.4"/>
<circle cx="98.7" cy="352.2" r="2.4"/>
<circle cx="85.3" cy="421.6" r="2.4"/>
<circle cx="87.1" cy="409.9" r="2.4"/>
<circle cx="88.1" cy="400.5" r="2.4"/>
<circle cx="89.0" cy="395.3" r="2.4"/>
<circle cx="103.4" cy="341.8" r="2.4"/>
<circle cx="85.7" cy="416.1" r="2.4"/>
<circle cx="118.1" cy="291.3" r="2.4"/>
<circle cx="151.9" cy="244.8" r="2.4"/>
<circle cx="142.0" cy="247.9" r="2.4"/>
<circle cx="161.6" cy="232.0" r="2.4"/>
<circle cx="137.1" cy="256.1" r="2.4"/>
<circle cx="137.7" cy="261.1" r="2.4"/>
<circle cx="158.8" cy="240.8" r="2.4"/>
<circle cx="130.6" cy="272.9" r="2.4"/>
<circle cx="223.9" cy="184.3" r="2.4"/>
<circle cx="201.8" cy="197.4" r="2.4"/>
<circle cx="207.5" cy="197.5" r="2.4"/>
<circle cx="210.0" cy="195.5" r="2.4"/>
<circle cx="213.5" cy="193.7" r="2.4"/>
<circle cx="201.7" cy="197.7" r="2.4"/>
<circle cx="201.2" cy="197.4" r="2.4"/>
<circle cx="249.0" cy="171.3" r="2.4"/>
<circle cx="219.2" cy="188.4" r="2.4"/>
<circle cx="213.0" cy="191.1" r="2.4"/>
<circle cx="227.4" cy="185.0" r="2.4"/>
<circle cx="202.2" cy="199.4" r="2.4"/>
<circle cx="204.7" cy="197.9" r="2.4"/>
<circle cx="235.1" cy="179.3" r="2.4"/>
<circle cx="234.6" cy="179.2" r="2.4"/>
<circle cx="248.8" cy="171.8" r="2.4"/>
<circle cx="235.3" cy="180.0" r="2.4"/>
<circle cx="237.6" cy="176.4" r="2.4"/>
<circle cx="233.0" cy="177.5" r="2.4"/>
<circle cx="216.2" cy="188.6" r="2.4"/>
<circle cx="241.7" cy="175.9" r="2.4"/>
<circle cx="249.7" cy="170.4" r="2.4"/>
<circle cx="214.9" cy="191.7" r="2.4"/>
<circle cx="255.4" cy="167.7" r="2.4"/>
<circle cx="211.5" cy="195.1" r="2.4"/>
<circle cx="204.0" cy="198.4" r="2.4"/>
<circle cx="231.7" cy="183.6" r="2.4"/>
<circle cx="208.3" cy="193.8" r="2.4"/>
<circle cx="245.6" cy="175.4" r="2.4"/>
<circle cx="218.7" cy="189.1" r="2.4"/>
<circle cx="253.0" cy="169.0" r="2.4"/>
<circle cx="240.2" cy="176.2" r="2.4"/>
<circle cx="208.2" cy="195.9" r="2.4"/>
<circle cx="212.9" cy="192.1" r="2.4"/>
<circle cx="221.5" cy="185.2" r="2.4"/>
<circle cx="201.8" cy="197.8" r="2.4"/>
<circle cx="277.3" cy="158.3" r="2.4"/>
<circle cx="289.3" cy="152.8" r="2.4"/>
<circle cx="281.6" cy="152.8" r="2.4"/>
<circle cx="268.0" cy="161.4" r="2.4"/>
<circle cx="331.4" cy="136.7" r="2.4"/>
<circle cx="294.7" cy="150.2" r="2.4"/>
<circle cx="312.3" cy="143.3" r="2.4"/>
<circle cx="165.0" cy="232.1" r="2.4"/>
<circle cx="186.6" cy="209.8" r="2.4"/>
<circle cx="178.2" cy="219.7" r="2.4"/>
<circle cx="174.2" cy="221.9" r="2.4"/>
<circle cx="179.9" cy="219.0" r="2.4"/>
<circle cx="183.4" cy="214.2" r="2.4"/>
<circle cx="185.4" cy="209.4" r="2.4"/>
<circle cx="174.1" cy="222.1" r="2.4"/>
<circle cx="215.2" cy="190.1" r="2.4"/>
<circle cx="215.2" cy="190.7" r="2.4"/>
<circle cx="217.8" cy="189.2" r="2.4"/>
<circle cx="207.0" cy="195.1" r="2.4"/>
<circle cx="221.8" cy="186.0" r="2.4"/>
<circle cx="210.2" cy="195.9" r="2.4"/>
<circle cx="212.8" cy="191.9" r="2.4"/>
<circle cx="213.4" cy="191.7" r="2.4"/>
</g>
<rect x="77.8" y="9.3" width="746.2" height="486.8" fill="none" stroke="#000" stroke-width="2"/>
<path d="M77.8 496.1v8.2M177.3 496.1v8.2M276.8 496.1v8.2M376.3 496.1v8.2M475.8 496.1v8.2M575.3 496.1v8.2M674.8 496.1v8.2M774.3 496.1v8.2M77.8 496.1h-8.4M77.8 426.6h-8.4M77.8 357.0h-8.4M77.8 287.5h-8.4M77.8 217.9h-8.4M77.8 148.4h-8.4M77.8 78.8h-8.4M77.8 9.3h-8.4" stroke="#000" stroke-width="2" fill="none"/>
<text class="tk" x="59.2" y="533.9" textLength="37.1" lengthAdjust="spacingAndGlyphs">0.0</text>
<text class="tk" x="158.7" y="533.9" textLength="37.1" lengthAdjust="spacingAndGlyphs">0.2</text>
<text class="tk" x="258.2" y="533.9" textLength="37.1" lengthAdjust="spacingAndGlyphs">0.4</text>
<text class="tk" x="357.7" y="533.9" textLength="37.1" lengthAdjust="spacingAndGlyphs">0.6</text>
<text class="tk" x="457.2" y="533.9" textLength="37.1" lengthAdjust="spacingAndGlyphs">0.8</text>
<text class="tk" x="556.7" y="533.9" textLength="37.1" lengthAdjust="spacingAndGlyphs">1.0</text>
<text class="tk" x="656.2" y="533.9" textLength="37.1" lengthAdjust="spacingAndGlyphs">1.2</text>
<text class="tk" x="755.7" y="533.9" textLength="37.1" lengthAdjust="spacingAndGlyphs">1.4</text>
<text class="tk" x="33.0" y="506.8" textLength="28.2" lengthAdjust="spacingAndGlyphs">32</text>
<text class="tk" x="33.0" y="437.3" textLength="28.2" lengthAdjust="spacingAndGlyphs">34</text>
<text class="tk" x="33.0" y="367.7" textLength="28.2" lengthAdjust="spacingAndGlyphs">36</text>
<text class="tk" x="33.0" y="298.2" textLength="28.2" lengthAdjust="spacingAndGlyphs">38</text>
<text class="tk" x="33.0" y="228.6" textLength="28.2" lengthAdjust="spacingAndGlyphs">40</text>
<text class="tk" x="33.0" y="159.1" textLength="28.2" lengthAdjust="spacingAndGlyphs">42</text>
<text class="tk" x="33.0" y="89.5" textLength="28.2" lengthAdjust="spacingAndGlyphs">44</text>
<text class="tk" x="33.0" y="20.0" textLength="28.2" lengthAdjust="spacingAndGlyphs">46</text>
<text class="ax" x="452.2" y="574.8" text-anchor="middle">z</text>
<text class="ax" transform="translate(17.2,253) rotate(-90)" text-anchor="middle" textLength="20" lengthAdjust="spacingAndGlyphs">x</text>
<text class="an" x="228.1" y="252.7" textLength="45.9" lengthAdjust="spacingAndGlyphs">The</text>
<text class="an" x="284.9" y="252.7" textLength="104.1" lengthAdjust="spacingAndGlyphs">Union2.1</text>
<text class="an" x="399.8" y="252.7" textLength="146.5" lengthAdjust="spacingAndGlyphs">Compilation</text>
<text class="an" x="228.1" y="293.1" textLength="45.9" lengthAdjust="spacingAndGlyphs">The</text>
<text class="an" x="283.5" y="293.1" textLength="121.3" lengthAdjust="spacingAndGlyphs">Supernova</text>
<text class="an" x="416.4" y="293.1" textLength="128.6" lengthAdjust="spacingAndGlyphs">Cosmology</text>
<text class="an" x="554.9" y="293.1" textLength="86.8" lengthAdjust="spacingAndGlyphs">Project</text>
<text class="chi it" x="230.4" y="334.20000000000005" textLength="11.6" lengthAdjust="spacingAndGlyphs">χ</text>
<text class="sm" x="243.6" y="323.8" textLength="10.4" lengthAdjust="spacingAndGlyphs">2</text>
<text class="sl" x="256.7" y="340.9" textLength="10.5" lengthAdjust="spacingAndGlyphs">/</text>
<text class="an" x="269.1" y="333.6" textLength="37.9" lengthAdjust="spacingAndGlyphs">ndf</text>
<text class="an" x="317.6" y="333.6" textLength="21.0" lengthAdjust="spacingAndGlyphs">=</text>
<text class="an" x="346.7" y="333.6" textLength="60.3" lengthAdjust="spacingAndGlyphs">567.2</text>
<text class="sl" x="409.7" y="340.9" textLength="10.5" lengthAdjust="spacingAndGlyphs">/</text>
<text class="an" x="422.1" y="333.6" textLength="41.1" lengthAdjust="spacingAndGlyphs">578</text>
<text class="an" x="471.8" y="333.6" textLength="19.8" lengthAdjust="spacingAndGlyphs">=</text>
<text class="an" x="499.7" y="333.6" textLength="48.9" lengthAdjust="spacingAndGlyphs">0.98</text>
<text class="an it" x="227.9" y="374.1" textLength="16.1" lengthAdjust="spacingAndGlyphs">n</text>
<text class="an" x="252.1" y="374.1" textLength="19.9" lengthAdjust="spacingAndGlyphs">=</text>
<text class="an" x="280.0" y="374.1" textLength="47.2" lengthAdjust="spacingAndGlyphs">2.81</text>
<text class="an" x="335.8" y="374.1" textLength="19.7" lengthAdjust="spacingAndGlyphs">±</text>
<text class="an" x="362.9" y="374.1" textLength="48.5" lengthAdjust="spacingAndGlyphs">0.19</text>
<text class="an it" x="227.9" y="414.5" textLength="23.4" lengthAdjust="spacingAndGlyphs">H</text>
<text class="sm" x="250.0" y="418.9" textLength="9.8" lengthAdjust="spacingAndGlyphs">0</text>
<text class="an" x="267.9" y="414.5" textLength="21.0" lengthAdjust="spacingAndGlyphs">=</text>
<text class="an" x="297.0" y="414.5" textLength="61.0" lengthAdjust="spacingAndGlyphs">70.41</text>
<text class="an" x="366.1" y="414.5" textLength="20.9" lengthAdjust="spacingAndGlyphs">±</text>
<text class="an" x="394.2" y="414.5" textLength="47.7" lengthAdjust="spacingAndGlyphs">0.45</text>
<text class="an" x="451.9" y="414.5" textLength="127.7" lengthAdjust="spacingAndGlyphs">km/s/Mpc</text>
<rect x="605.6" y="378.4" width="202.9" height="101.5" rx="5" ry="5" fill="#fff" fill-opacity="0.8" stroke="#cccccc" stroke-width="2"/>
<path d="M617.3 403.5H686.4" stroke="#ff0000" stroke-width="3.9"/>
<path d="M651.6 432.7V464.8" stroke="#4682b4" stroke-width="3.6"/>
<circle cx="651.6" cy="448.7" r="2.4" fill="#000"/>
<text class="lg" x="710.3" y="415.1" textLength="84.7" lengthAdjust="spacingAndGlyphs">model</text>
<text class="lg" x="711.0" y="460.6" textLength="62.8" lengthAdjust="spacingAndGlyphs">data</text>
</svg></body></html>
